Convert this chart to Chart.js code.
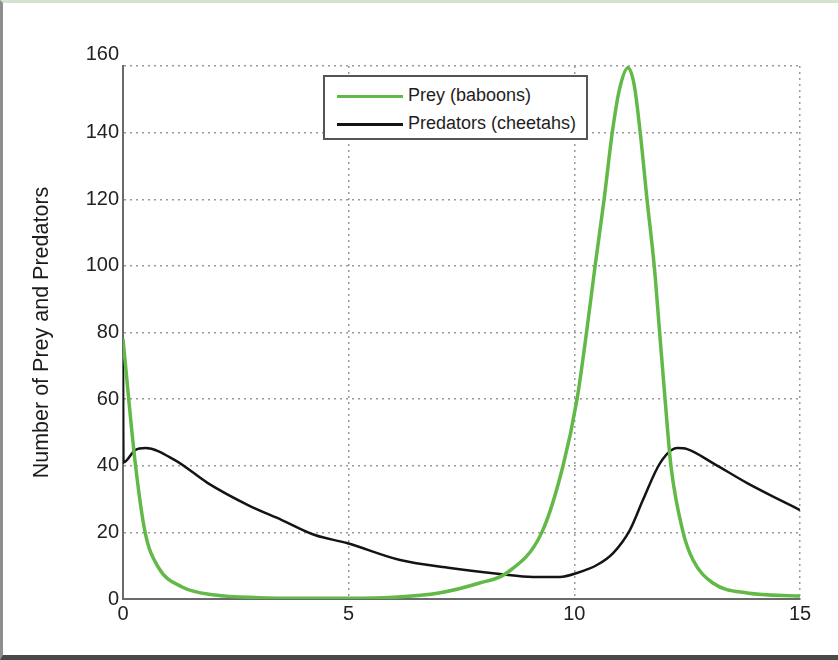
<!DOCTYPE html>
<html>
<head>
<meta charset="utf-8">
<script src="https://cdn.jsdelivr.net/npm/chart.js@4"></script>
<style>
  html, body { margin: 0; padding: 0; background: #fff; }
  #frame {
    position: relative;
    width: 835px;
    height: 652px;
    border-left: 3px solid #8e8e8e;
    border-top: 3px solid #d2e4cd;
    border-bottom: 5px solid #4a4a4a;
  }
  #myChart { display: block; }
  #legend {
    position: absolute;
    left: 320px;
    top: 72px;
    width: 261px;
    height: 61px;
    border: 2px solid #555;
    background: #fff;
    font-family: "Liberation Sans", Arial, sans-serif;
    font-size: 18px;
    color: #1e1e1e;
  }
  .row { position: absolute; left: 12px; height: 20px; line-height: 20px; white-space: nowrap; }
  .swatch { display: inline-block; width: 66px; height: 0; vertical-align: middle; margin-right: 5px; }
</style>
</head>
<body>
<div id="frame">
  <canvas id="myChart" width="835" height="652"></canvas>
  <div id="legend"></div>
</div>
<script>
// time axis 0..15
const preyTimes = [0, 0.27, 0.49, 0.78, 1.31, 2.04, 3, 4, 5, 6, 7, 7.9, 8.5, 9.28, 9.75, 10.06, 10.27, 10.46, 10.66, 10.84, 11.0, 11.19, 11.33, 11.46, 11.61, 11.77, 11.89, 12.01, 12.14, 12.41, 12.63, 13.07, 13.83, 15];
const preyCounts = [78, 41, 20, 9.6, 3.6, 1.2, 0.4, 0.2, 0.2, 0.5, 1.8, 4.8, 7.8, 20, 40, 60, 80, 100, 120, 140, 153, 159.5, 154, 140, 120, 100, 80, 60, 40, 20, 11.7, 4.8, 1.8, 0.9];

const predatorTimes = [0, 0.01, 0.27, 0.5, 1.15, 1.88, 2.77, 3.52, 4.25, 4.96, 6.14, 7.25, 8.35, 9.08, 9.68, 10.06, 10.5, 10.86, 11.23, 11.52, 11.9, 12.28, 12.5, 13.07, 13.83, 14.56, 15];
const predatorCounts = [73, 41, 44.7, 45.3, 41.7, 34.8, 28.2, 23.7, 19.2, 16.8, 11.7, 9.3, 7.5, 6.6, 6.6, 7.8, 10.2, 13.8, 20.7, 29.7, 40.8, 45.3, 45, 40.8, 34.8, 29.7, 26.7];

const xTicks = [0, 5, 10, 15];
const yTicks = [0, 20, 40, 60, 80, 100, 120, 140, 160];

function toPoints(xs, ys) {
  const pts = [];
  for (let i = 0; i < xs.length; i++) {
    pts.push({ x: xs[i], y: ys[i] });
  }
  return pts;
}

const tickFont = { family: "Liberation Sans", size: 20 };

const chart = new Chart(document.getElementById("myChart"), {
  type: "line",
  data: {
    datasets: [
      {
        label: "Prey (baboons)",
        data: toPoints(preyTimes, preyCounts),
        borderColor: "#62b947",
        borderWidth: 3.5,
        pointRadius: 0,
        cubicInterpolationMode: "monotone",
      },
      {
        label: "Predators (cheetahs)",
        data: toPoints(predatorTimes, predatorCounts),
        borderColor: "#141414",
        borderWidth: 2.5,
        pointRadius: 0,
        cubicInterpolationMode: "monotone",
      },
    ],
  },
  options: {
    responsive: false,
    animation: false,
    layout: { padding: { top: 63, right: 38, left: 0, bottom: 0 } },
    plugins: { legend: { display: false }, tooltip: { enabled: false } },
    scales: {
      x: {
        type: "linear",
        min: 0,
        max: 15,
        afterFit: (scale) => { scale.height = 56; },
        afterBuildTicks: (scale) => { scale.ticks = xTicks.map((v) => ({ value: v })); },
        ticks: { color: "#222", font: tickFont, padding: 3, maxRotation: 0 },
        grid: { color: "#9a9a9a", lineWidth: 1.5, drawTicks: false },
        border: { display: true, color: "#6a6a6a", width: 2, dash: [2, 4] },
      },
      y: {
        min: 0,
        max: 160,
        afterFit: (scale) => { scale.width = 120; },
        afterBuildTicks: (scale) => { scale.ticks = yTicks.map((v) => ({ value: v })); },
        ticks: {
          color: "#222",
          font: tickFont,
          padding: 4,
          callback: (v) => (v === 160 ? ["160", ""] : String(v)),
        },
        grid: { color: "#9a9a9a", lineWidth: 1.5, drawTicks: false },
        border: { display: true, color: "#6a6a6a", width: 2, dash: [2, 4] },
        title: {
          display: true,
          text: "Number of Prey and Predators",
          color: "#1a1a1a",
          font: { family: "Liberation Sans", size: 21.5 },
          padding: { top: 26, bottom: 0 },
        },
      },
    },
  },
});

// legend box drawn inside the plot, like the original
const legend = document.getElementById("legend");
chart.data.datasets.forEach((ds, i) => {
  const row = document.createElement("div");
  row.className = "row";
  row.style.top = (8 + i * 28) + "px";
  row.innerHTML = '<span class="swatch" style="border-top:3px solid ' + ds.borderColor + '"></span>' + ds.label;
  legend.appendChild(row);
});
</script>
</body>
</html>
